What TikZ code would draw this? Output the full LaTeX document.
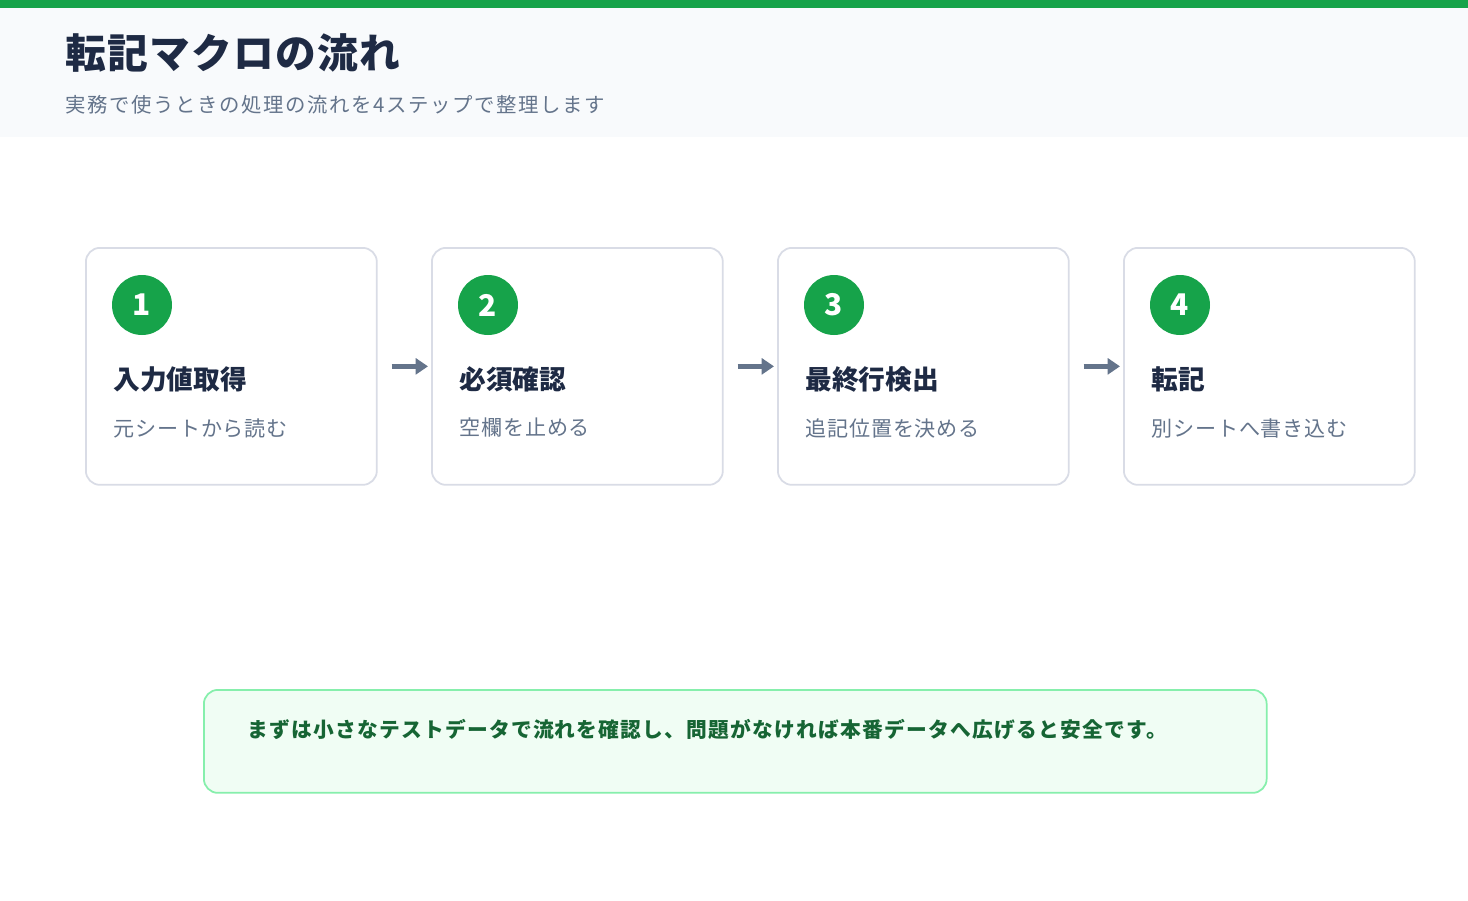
\documentclass[tikz,border=0pt]{standalone}
\usepackage{fontspec}
\setmainfont{Noto Sans CJK JP}
\usepackage{tikz}
\usetikzlibrary{positioning, calc, arrows.meta}
\definecolor{brand}{HTML}{16A34A}
\definecolor{navy}{HTML}{1E2A44}
\definecolor{muted}{HTML}{64748B}
\definecolor{cardline}{HTML}{D9DCE6}
\definecolor{headbg}{HTML}{F8FAFC}
\definecolor{notebg}{HTML}{F0FDF4}
\definecolor{noteline}{HTML}{86EFAC}
\definecolor{notetext}{HTML}{166534}

\begin{document}
\begin{tikzpicture}[
    x=0.02cm, y=-0.02cm,
    card/.style={
        draw=cardline,
        line width=1pt,
        rounded corners=8pt,
        fill=white,
        minimum width=5.82cm,
        minimum height=4.74cm
    },
    badge/.style={
        circle,
        fill=brand,
        text=white,
        minimum size=1.2cm,
        inner sep=0pt,
        font=\fontsize{17}{17}\selectfont\bfseries
    },
    steptitle/.style={
        anchor=west,
        text=navy,
        inner sep=0pt,
        font=\fontsize{15.2}{15.2}\selectfont\bfseries
    },
    stepnote/.style={
        anchor=west,
        text=muted,
        inner sep=0pt,
        font=\fontsize{12}{12}\selectfont\addfontfeature{LetterSpace=4}
    },
    flow/.style={
        draw=muted,
        line width=2.6pt,
        -{Triangle[length=7pt,width=9pt]}
    }
]

% Canvas and header
\useasboundingbox (0,0) rectangle (1468,900);
\fill[white] (0,0) rectangle (1468,900);
\fill[headbg] (0,8) rectangle (1468,137);
\fill[brand] (0,0) rectangle (1468,8);
\node[anchor=west, inner sep=0pt, text=navy, font=\fontsize{23.2}{23.2}\selectfont\bfseries\addfontfeature{LetterSpace=3}] (title) at (65,53) {転記マクロの流れ};
\node[anchor=west, inner sep=0pt, text=muted, font=\fontsize{11.6}{11.6}\selectfont\addfontfeature{LetterSpace=8}] (subtitle) at (65,105) {実務で使うときの処理の流れを4ステップで整理します};

% Step cards
\foreach \i/\x/\t/\s in {1/85/入力値取得/元シートから読む, 2/431/必須確認/空欄を止める, 3/777/最終行検出/追記位置を決める, 4/1123/転記/別シートへ書き込む} {
    \node[card, anchor=north west] (card\i) at (\x,247) {};
    \node[badge] (badge\i) at ($(card\i.north west)+(57,58)$) {\i};
    \node[steptitle] (title\i) at ($(card\i.north west)+(28,132)$) {\t};
    \node[stepnote] (note\i) at ($(card\i.north west)+(28,181)$) {\s};
}

% Arrows between cards
\foreach \a/\b in {1/2, 2/3, 3/4} {
    \draw[flow] ($(card\a.east)+(14,0)$) -- ($(card\b.west)+(-3,0)$);
}

% Note box
\node[draw=noteline, line width=1pt, fill=notebg, rounded corners=8pt, anchor=north west, minimum width=21.26cm, minimum height=2.06cm] (tip) at (203,689) {};
\node[anchor=west, inner sep=0pt, text=notetext, font=\fontsize{11.8}{11.8}\selectfont\bfseries\addfontfeature{LetterSpace=6}] (tiptext) at (247,730) {まずは小さなテストデータで流れを確認し、問題がなければ本番データへ広げると安全です。};

\end{tikzpicture}
\end{document}
